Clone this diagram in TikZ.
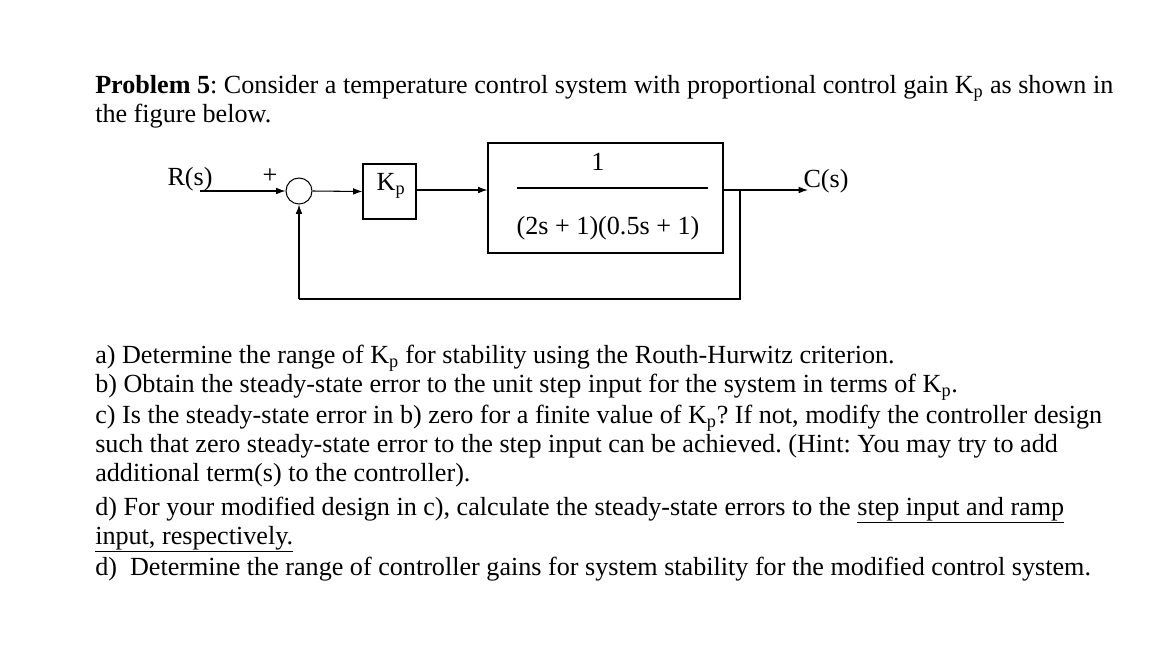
\documentclass[tikz,border=0pt]{standalone}
\usepackage{fontspec}
\setmainfont{Liberation Serif}
\usetikzlibrary{arrows.meta}
\begin{document}
\frenchspacing
\begin{tikzpicture}[x=0.75pt,y=-0.75pt,
  txt/.style={anchor=base west,inner sep=0pt,font=\fontsize{19.6}{22}\selectfont},
  blk/.style={draw,line width=0.8pt},
  sig/.style={line width=0.8pt,-{Latex[length=7pt,width=5pt]}},
  wire/.style={line width=0.8pt}]
\useasboundingbox (0,0) rectangle (1176,668);
\def\K{K\textsubscript{p}}
\node[txt] (l1) at (95,93) {\textbf{Problem 5}: Consider a temperature control system with proportional control gain \K{} as shown in};
\node[txt] (l2) at (95,122) {the figure below.};
\node[txt] (a) at (95,363) {a) Determine the range of \K{} for stability using the Routh-Hurwitz criterion.};
\node[txt] (b) at (95,392) {b) Obtain the steady-state error to the unit step input for the system in terms of \K.};
\node[txt] (c1) at (95,423) {c) Is the steady-state error in b) zero for a finite value of \K? If not, modify the controller design};
\node[txt] (c2) at (95,452) {such that zero steady-state error to the step input can be achieved. (Hint: You may try to add};
\node[txt] (c3) at (95,481) {additional term(s) to the controller).};
\node[txt] (d1) at (95,515) {d) For your modified design in c), calculate the steady-state errors to the \underline{step input and ramp}};
\node[txt] (d2) at (95,544) {\underline{input, respectively.}};
\node[txt] (d3) at (95,575) {d)\ \ Determine the range of controller gains for system stability for the modified control system.};
% diagram
\node[txt,anchor=base] (R) at (190,185) {R(s)};
\node[txt,anchor=base] (plus) at (270,183) {+};
\node[txt,anchor=base] (C) at (826,187) {C(s)};
\coordinate (rin) at (200,191);
\node[draw,circle,minimum size=26*0.75pt,inner sep=0pt,line width=0.8pt] (sum) at (299,191) {};
\node[blk,minimum width=53*0.75pt,minimum height=55*0.75pt] (kp) at (389.5,191.5) {};
\node[txt,anchor=base] at (391,190) {\K};
\node[blk,minimum width=235*0.75pt,minimum height=110*0.75pt] (G) at (605.5,198) {};
\draw[line width=0.9pt] (517,188) -- (708,188);
\node[txt,anchor=base] (num) at (598,170) {1};
\node[txt,anchor=base] (den) at (608,234) {(2s + 1)(0.5s + 1)};
\coordinate (br) at (740,190);
\coordinate (out) at (808,190);
\coordinate (fb1) at (740,299);
\coordinate (fb2) at (299,299);
\draw[sig] (rin) -- (sum.west);
\draw[sig] (sum.east) -- (kp.west);
\draw[sig] (kp.east |- 0,190) -- (G.west |- 0,190);
\draw[sig] (G.east |- 0,190) -- (out);
\draw[wire] (br) -- (fb1) -- (fb2);
\draw[sig] (fb2) -- (sum.south);
\end{tikzpicture}
\end{document}
